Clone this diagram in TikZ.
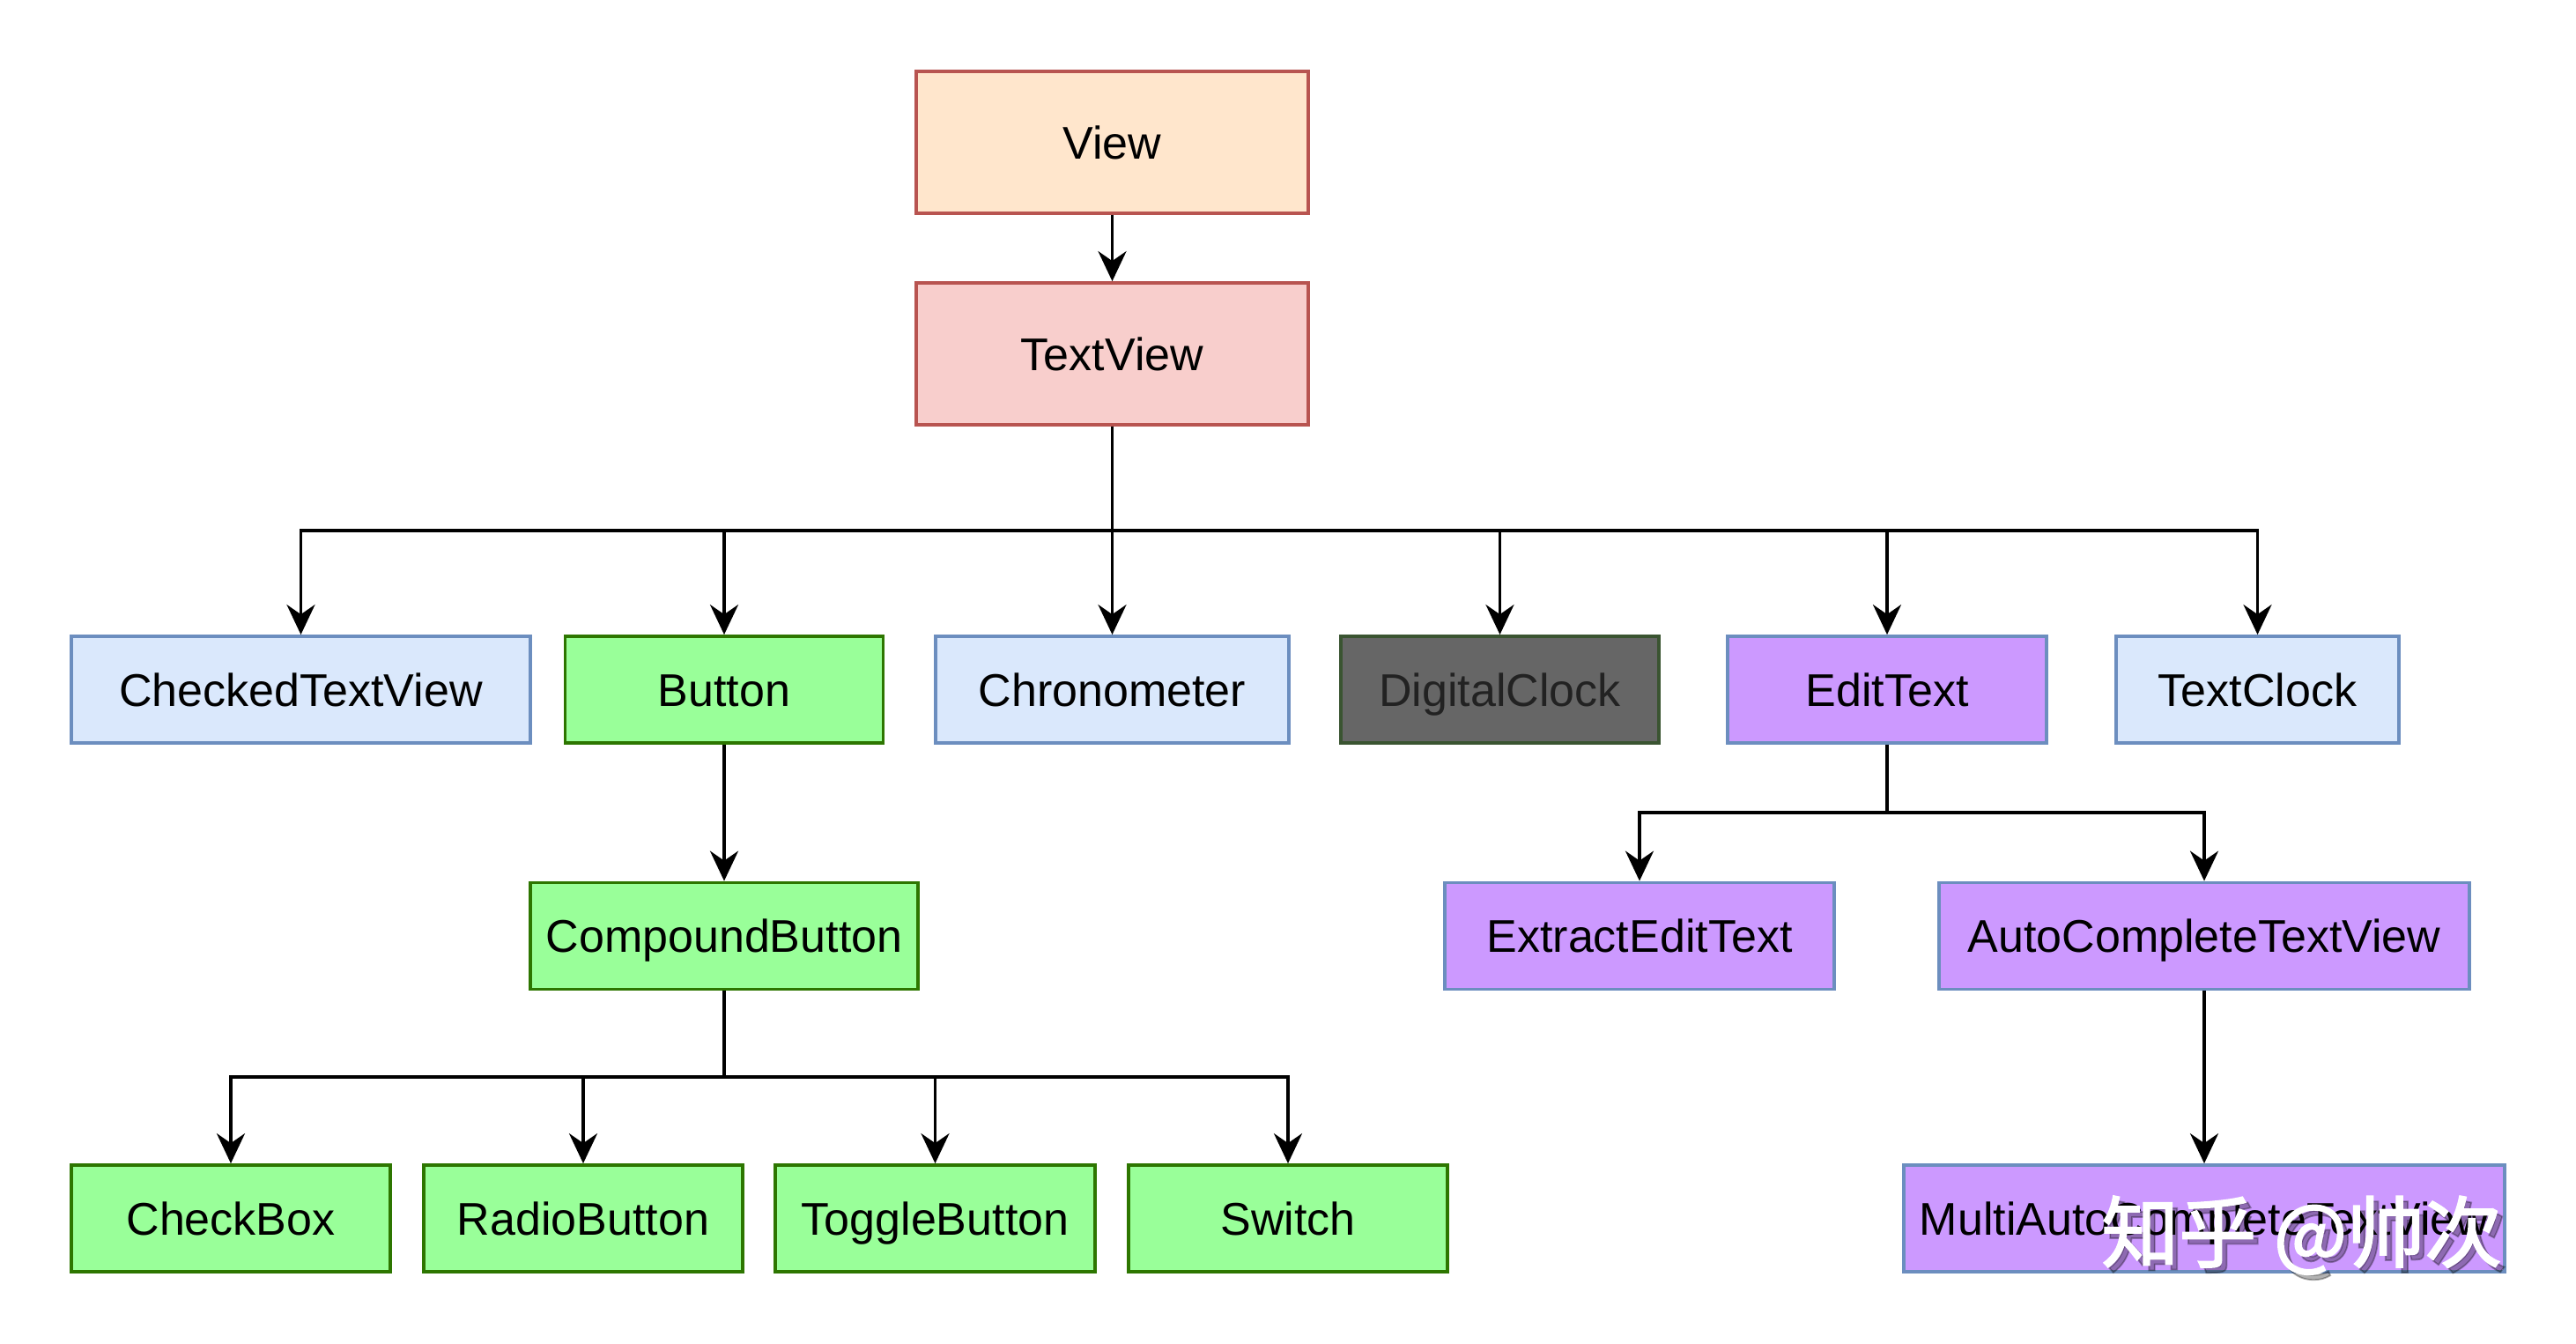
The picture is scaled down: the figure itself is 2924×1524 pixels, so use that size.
\documentclass[tikz,border=0pt]{standalone}
\usepackage{fontspec}
\setmainfont{Liberation Sans}
\newfontfamily\cjk[AutoFakeBold=2]{Noto Sans CJK SC}
\usetikzlibrary{arrows.meta}
\definecolor{redstroke}{HTML}{B85450}
\definecolor{orangefill}{HTML}{FFE6CC}
\definecolor{redfill}{HTML}{F8CECC}
\definecolor{bluefill}{HTML}{DAE8FC}
\definecolor{bluestroke}{HTML}{6C8EBF}
\definecolor{greenfill}{HTML}{99FF99}
\definecolor{greenstroke}{HTML}{2D7600}
\definecolor{grayfill}{HTML}{666666}
\definecolor{graystroke}{HTML}{3A5431}
\definecolor{purplefill}{HTML}{CC99FF}
\definecolor{graytext}{HTML}{222222}
\begin{document}
\begin{tikzpicture}[x=1pt,y=-1pt,
  box/.style={draw, line width=3.8pt, inner sep=0pt, align=center,
    font=\fontsize{52}{60}\selectfont, text height=37pt, text depth=0pt},
  topbox/.style={box, minimum height=161pt, minimum width=445pt},
  rowbox/.style={box, minimum height=121pt},
  orangebox/.style={topbox, fill=orangefill, draw=redstroke},
  redbox/.style={topbox, fill=redfill, draw=redstroke},
  bluebox/.style={rowbox, fill=bluefill, draw=bluestroke},
  greenbox/.style={rowbox, fill=greenfill, draw=greenstroke},
  graybox/.style={rowbox, fill=grayfill, draw=graystroke, text=graytext},
  purplebox/.style={rowbox, fill=purplefill, draw=bluestroke},
  conn/.style={line width=3.8pt, -{Stealth[length=34pt,width=32pt,inset=11pt]}},
  wmstyle/.style={anchor=base west, inner sep=0pt, font=\cjk\bfseries\fontsize{88}{92}\selectfont}
]
\useasboundingbox[fill=white] (0,0) rectangle (2924,1524);

% top
\node[orangebox] (view) at (1262.5,161.5) {View};
\node[redbox] (tv) at (1262.5,401.5) {TextView};

% row 2
\node[bluebox, minimum width=521pt] (ctv) at (341.5,782.5) {CheckedTextView};
\node[greenbox, minimum width=361pt] (btn) at (822,782.5) {Button};
\node[bluebox, minimum width=401pt] (chr) at (1262.5,782.5) {Chronometer};
\node[graybox, minimum width=361pt] (dc) at (1702.5,782.5) {DigitalClock};
\node[purplebox, minimum width=362pt] (et) at (2142,782.5) {EditText};
\node[bluebox, minimum width=321pt] (tc) at (2562.5,782.5) {TextClock};

% row 3
\node[greenbox, minimum width=440pt] (cb) at (822,1062) {CompoundButton};
\node[purplebox, minimum width=442pt] (eet) at (1861,1062) {ExtractEditText};
\node[purplebox, minimum width=602pt] (actv) at (2502,1062) {AutoCompleteTextView};

% row 4
\node[greenbox, minimum width=362pt] (chk) at (262,1382.5) {CheckBox};
\node[greenbox, minimum width=362pt] (rb) at (662,1382.5) {RadioButton};
\node[greenbox, minimum width=363pt] (tgl) at (1061.5,1382.5) {ToggleButton};
\node[greenbox, minimum width=362pt] (sw) at (1462,1382.5) {Switch};
\node[purplebox, minimum width=682pt] (mactv) at (2502,1382.5) {MultiAutoCompleteTextView};

% buses
\coordinate (bus1) at (0,602);
\coordinate (bus2) at (0,922);
\coordinate (bus3) at (0,1222);

\draw[conn] (view.south) -- (tv.north);
\draw[conn] (tv.south) -- (tv.south |- bus1) -| (ctv.north);
\draw[conn] (tv.south) -- (tv.south |- bus1) -| (btn.north);
\draw[conn] (tv.south) -- (chr.north);
\draw[conn] (tv.south) -- (tv.south |- bus1) -| (dc.north);
\draw[conn] (tv.south) -- (tv.south |- bus1) -| (et.north);
\draw[conn] (tv.south) -- (tv.south |- bus1) -| (tc.north);

\draw[conn] (btn.south) -- (cb.north);
\draw[conn] (cb.south) -- (cb.south |- bus3) -| (chk.north);
\draw[conn] (cb.south) -- (cb.south |- bus3) -| (rb.north);
\draw[conn] (cb.south) -- (cb.south |- bus3) -| (tgl.north);
\draw[conn] (cb.south) -- (cb.south |- bus3) -| (sw.north);

\draw[conn] (et.south) -- (et.south |- bus2) -| (eet.north);
\draw[conn] (et.south) -- (et.south |- bus2) -| (actv.north);
\draw[conn] (actv.south) -- (mactv.north);

% watermark
\node[wmstyle, text=black, opacity=0.3] (wms) at (2391,1437) {知乎 @帅次};
\node[wmstyle, text=white] (wm) at (2385,1431) {知乎 @帅次};
\end{tikzpicture}
\end{document}
